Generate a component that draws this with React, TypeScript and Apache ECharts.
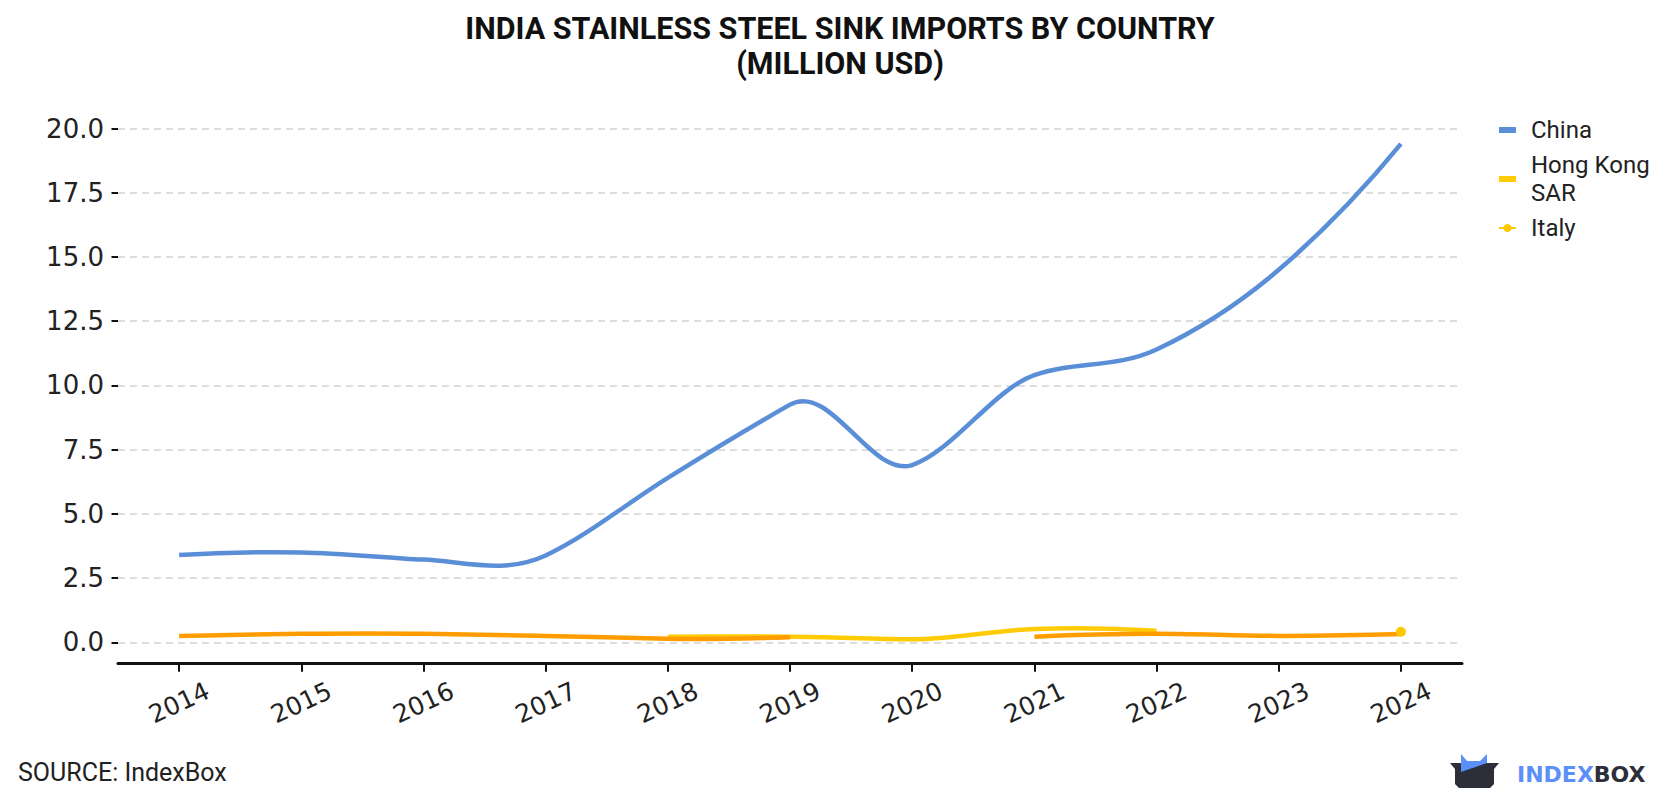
import React, { useEffect, useRef } from "react";
import * as echarts from "echarts";

// Imports of stainless steel sinks into India, million USD
const years = ["2014", "2015", "2016", "2017", "2018", "2019", "2020", "2021", "2022", "2023", "2024"];
const china = [3.4, 3.5, 3.22, 3.38, 6.4, 9.25, 6.9, 10.4, 11.4, 14.5, 19.4];
const hongKong = [null, null, null, null, 0.22, 0.22, 0.12, 0.52, 0.45, null, null];
const others = [0.25, 0.33, 0.33, 0.25, 0.14, 0.2, null, 0.22, 0.33, 0.25, 0.32];
const italy = [null, null, null, null, null, null, null, null, null, null, 0.41];

const COLORS = {
  china: "#5a8fd8",
  hongKong: "#ffcb05",
  others: "#ff9c00",
  italy: "#ffc800",
};

const BAR_ICON = "path://M0 0H17V6H0Z";

type Pt = [number, number];

// Split a series into runs of consecutive non-null values: [index, value]
function toSegments(values: (number | null)[]): Pt[][] {
  const segs: Pt[][] = [];
  let cur: Pt[] = [];
  values.forEach((v, i) => {
    if (v == null) {
      if (cur.length) segs.push(cur);
      cur = [];
    } else {
      cur.push([i, v]);
    }
  });
  if (cur.length) segs.push(cur);
  return segs;
}

// Akima tangents for evenly spaced values
function akimaSlopes(y: number[]): number[] {
  const n = y.length;
  if (n < 2) return y.map(() => 0);
  if (n === 2) return [y[1] - y[0], y[1] - y[0]];
  const ext = new Array(n + 3).fill(0);
  for (let i = 0; i < n - 1; i++) ext[i + 2] = y[i + 1] - y[i];
  ext[1] = 2 * ext[2] - ext[3];
  ext[0] = 2 * ext[1] - ext[2];
  ext[n + 1] = 2 * ext[n] - ext[n - 1];
  ext[n + 2] = 2 * ext[n + 1] - ext[n];
  const s: number[] = [];
  for (let i = 0; i < n; i++) {
    const m1 = ext[i], m2 = ext[i + 1], m3 = ext[i + 2], m4 = ext[i + 3];
    const w1 = Math.abs(m4 - m3);
    const w2 = Math.abs(m2 - m1);
    s.push(w1 + w2 > 1e-12 ? (w1 * m2 + w2 * m3) / (w1 + w2) : (m2 + m3) / 2);
  }
  return s;
}

function curveSeries(name: string, values: (number | null)[], color: string) {
  const segments = toSegments(values);
  const points = segments.flat();
  return {
    name,
    type: "custom",
    coordinateSystem: "cartesian2d",
    data: points,
    encode: { x: 0, y: 1 },
    itemStyle: { color },
    renderItem: (params: any, api: any) => {
      if (params.dataIndex !== 0) return null;
      const o = api.coord([0, 0]);
      const ux = api.coord([1, 0])[0] - o[0];
      const uy = api.coord([0, 1])[1] - o[1];
      let d = "";
      segments.forEach((seg) => {
        const slopes = akimaSlopes(seg.map((p) => p[1]));
        const px = seg.map((p) => api.coord(p));
        d += `M${px[0][0]} ${px[0][1]}`;
        for (let i = 0; i < seg.length - 1; i++) {
          const c1x = px[i][0] + ux / 3;
          const c1y = px[i][1] + (slopes[i] * uy) / 3;
          const c2x = px[i + 1][0] - ux / 3;
          const c2y = px[i + 1][1] - (slopes[i + 1] * uy) / 3;
          d += ` C${c1x} ${c1y} ${c2x} ${c2y} ${px[i + 1][0]} ${px[i + 1][1]}`;
        }
      });
      return {
        type: "path",
        shape: { pathData: d },
        style: { fill: "none", stroke: color, lineWidth: 4.5, lineJoin: "round" },
      };
    },
  };
}

export default function App() {
  const ref = useRef<HTMLDivElement>(null);

  useEffect(() => {
    if (!ref.current) return;
    const chart = echarts.init(ref.current, undefined, { renderer: "svg" });

    chart.setOption({
      animation: false,
      title: {
        text: "INDIA STAINLESS STEEL SINK IMPORTS BY COUNTRY\n(MILLION USD)",
        left: "center",
        top: 6,
        textStyle: {
          fontFamily: "Roboto",
          fontWeight: "bold",
          fontSize: 30.5,
          lineHeight: 35,
          color: "#111",
        },
      },
      legend: {
        orient: "vertical",
        left: 1493,
        top: 111,
        itemWidth: 17,
        itemHeight: 10,
        itemGap: 7,
        data: [
          { name: "China", icon: BAR_ICON },
          { name: "Hong Kong SAR", icon: BAR_ICON },
          { name: "Italy" },
        ],
        formatter: (name: string) => name.replace(" SAR", "\nSAR"),
        textStyle: {
          fontFamily: "Roboto",
          fontSize: 24,
          lineHeight: 28,
          color: "#222",
          padding: [0, 0, 0, 10],
        },
      },
      grid: { left: 118, right: 218, top: 128.5, bottom: 157.7, containLabel: false },
      xAxis: {
        type: "category",
        data: years,
        boundaryGap: true,
        offset: 21.4,
        axisLine: { show: true, onZero: false, lineStyle: { color: "#111", width: 3 } },
        axisTick: { show: true, alignWithLabel: true, length: 8, lineStyle: { color: "#111", width: 2 } },
        axisLabel: {
          rotate: 25,
          align: "center",
          verticalAlign: "middle",
          margin: 39,
          fontFamily: "DejaVu Sans",
          fontSize: 25,
          color: "#222",
        },
        splitLine: { show: false },
      },
      yAxis: {
        type: "value",
        min: 0,
        max: 20,
        interval: 2.5,
        axisLine: { show: false },
        axisTick: { show: true, length: 6.5, lineStyle: { color: "#111", width: 2 } },
        axisLabel: {
          margin: 14,
          fontFamily: "DejaVu Sans",
          fontSize: 26,
          color: "#222",
          formatter: (v: number) => v.toFixed(1),
        },
        splitLine: { show: true, lineStyle: { color: "#dddddd", width: 2, type: [7, 5] } },
      },
      series: [
        curveSeries("China", china, COLORS.china),
        curveSeries("Hong Kong SAR", hongKong, COLORS.hongKong),
        curveSeries("Others", others, COLORS.others),
        {
          name: "Italy",
          type: "line",
          data: italy,
          showSymbol: true,
          symbol: "circle",
          symbolSize: 10,
          lineStyle: { color: COLORS.italy, width: 3 },
          itemStyle: { color: COLORS.italy },
        },
      ],
      graphic: [
        {
          type: "text",
          left: 18,
          top: 760,
          style: {
            text: "SOURCE: IndexBox",
            fontFamily: "Roboto",
            fontSize: 25,
            fill: "#222",
          },
        },
        {
          type: "group",
          children: [
            {
              type: "polygon",
              shape: {
                points: [
                  [1450, 763], [1499, 763], [1494, 769], [1494, 784], [1490, 788],
                  [1459, 788], [1455, 784], [1455, 769],
                ],
              },
              style: { fill: "#2c2e39" },
            },
            {
              type: "polygon",
              shape: {
                points: [
                  [1461, 754], [1467, 761], [1480, 761], [1487, 754], [1487, 763], [1461, 772],
                ],
              },
              style: { fill: "#5b8ff9" },
            },
            {
              type: "text",
              x: 1517,
              y: 774,
              style: {
                text: "{a|INDEX}{b|BOX}",
                verticalAlign: "middle",
                rich: {
                  a: { fontFamily: "DejaVu Sans", fontWeight: "bold", fontSize: 22, fill: "#5b8ff9" },
                  b: { fontFamily: "DejaVu Sans", fontWeight: "bold", fontSize: 22, fill: "#2c2e39" },
                },
              },
            },
          ],
        },
      ],
    });

    return () => chart.dispose();
  }, []);

  return (
    <div
      ref={ref}
      style={{ position: "fixed", left: 0, top: 0, width: 1680, height: 800, background: "#fff" }}
    />
  );
}
